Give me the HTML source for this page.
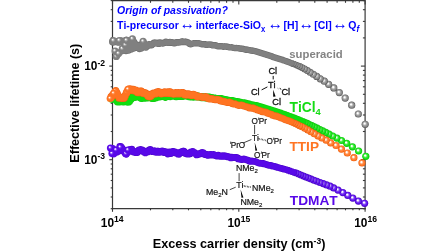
<!DOCTYPE html>
<html><head><meta charset="utf-8"><title>Origin of passivation</title>
<style>
html,body{margin:0;padding:0;background:#fff;}
body{width:448px;height:252px;overflow:hidden;font-family:"Liberation Sans",Arial,sans-serif;}
svg{display:block;}
svg text{font-family:"Liberation Sans",Arial,sans-serif;font-kerning:none;}
.b{font-weight:bold;}
</style></head><body>
<svg width="448" height="252" viewBox="0 0 448 252">
<defs>
<radialGradient id="g_grey" cx="0.5" cy="0.5" r="0.5" fx="0.39" fy="0.36"><stop offset="0" stop-color="#ffffff"/><stop offset="0.15" stop-color="#ffffff"/><stop offset="0.5" stop-color="#a4a4a4"/><stop offset="0.82" stop-color="#808080"/><stop offset="1" stop-color="#505050"/></radialGradient>
<radialGradient id="h_grey" cx="0.5" cy="0.5" r="0.5" fx="0.37" fy="0.34"><stop offset="0" stop-color="#ffffff"/><stop offset="0.08" stop-color="#ffffff"/><stop offset="0.36" stop-color="#a4a4a4"/><stop offset="0.6" stop-color="#808080"/><stop offset="1" stop-color="#808080"/></radialGradient>
<radialGradient id="g_green" cx="0.5" cy="0.5" r="0.5" fx="0.39" fy="0.36"><stop offset="0" stop-color="#ffffff"/><stop offset="0.15" stop-color="#ffffff"/><stop offset="0.5" stop-color="#3cea3c"/><stop offset="0.82" stop-color="#10de10"/><stop offset="1" stop-color="#0cb80c"/></radialGradient>
<radialGradient id="h_green" cx="0.5" cy="0.5" r="0.5" fx="0.37" fy="0.34"><stop offset="0" stop-color="#ffffff"/><stop offset="0.08" stop-color="#ffffff"/><stop offset="0.36" stop-color="#3cea3c"/><stop offset="0.6" stop-color="#10de10"/><stop offset="1" stop-color="#10de10"/></radialGradient>
<radialGradient id="g_orange" cx="0.5" cy="0.5" r="0.5" fx="0.39" fy="0.36"><stop offset="0" stop-color="#ffffff"/><stop offset="0.15" stop-color="#ffffff"/><stop offset="0.5" stop-color="#ff8c48"/><stop offset="0.82" stop-color="#ff7422"/><stop offset="1" stop-color="#e65808"/></radialGradient>
<radialGradient id="h_orange" cx="0.5" cy="0.5" r="0.5" fx="0.37" fy="0.34"><stop offset="0" stop-color="#ffffff"/><stop offset="0.08" stop-color="#ffffff"/><stop offset="0.36" stop-color="#ff8c48"/><stop offset="0.6" stop-color="#ff7422"/><stop offset="1" stop-color="#ff7422"/></radialGradient>
<radialGradient id="g_purple" cx="0.5" cy="0.5" r="0.5" fx="0.39" fy="0.36"><stop offset="0" stop-color="#ffffff"/><stop offset="0.15" stop-color="#ffffff"/><stop offset="0.5" stop-color="#7a3cf4"/><stop offset="0.82" stop-color="#5808e8"/><stop offset="1" stop-color="#4204b8"/></radialGradient>
<radialGradient id="h_purple" cx="0.5" cy="0.5" r="0.5" fx="0.37" fy="0.34"><stop offset="0" stop-color="#ffffff"/><stop offset="0.08" stop-color="#ffffff"/><stop offset="0.36" stop-color="#7a3cf4"/><stop offset="0.6" stop-color="#5808e8"/><stop offset="1" stop-color="#5808e8"/></radialGradient>
</defs>
<rect x="0" y="0" width="448" height="252" fill="#ffffff"/>
<!-- frame -->
<g stroke="#383838" stroke-width="1.2" fill="none" stroke-linecap="butt">
<line x1="112.5" y1="0" x2="112.5" y2="209.35"/>
<line x1="111.85" y1="208.7" x2="365.70000000000005" y2="208.7"/>
<line x1="365.1" y1="0" x2="365.1" y2="209.35"/>
<line x1="112.5" y1="0.6" x2="365.1" y2="0.6"/>
</g>
<g stroke="#383838" stroke-width="1.1" fill="none">
<line x1="110.7" y1="208.7" x2="112.5" y2="208.7"/>
<line x1="362.9" y1="208.7" x2="365.1" y2="208.7"/>
<line x1="110.7" y1="197.0" x2="112.5" y2="197.0"/>
<line x1="362.9" y1="197.0" x2="365.1" y2="197.0"/>
<line x1="110.7" y1="187.9" x2="112.5" y2="187.9"/>
<line x1="362.9" y1="187.9" x2="365.1" y2="187.9"/>
<line x1="110.7" y1="180.5" x2="112.5" y2="180.5"/>
<line x1="362.9" y1="180.5" x2="365.1" y2="180.5"/>
<line x1="110.7" y1="174.2" x2="112.5" y2="174.2"/>
<line x1="362.9" y1="174.2" x2="365.1" y2="174.2"/>
<line x1="110.7" y1="168.8" x2="112.5" y2="168.8"/>
<line x1="362.9" y1="168.8" x2="365.1" y2="168.8"/>
<line x1="110.7" y1="164.0" x2="112.5" y2="164.0"/>
<line x1="362.9" y1="164.0" x2="365.1" y2="164.0"/>
<line x1="109.3" y1="159.7" x2="112.5" y2="159.7"/>
<line x1="360.9" y1="159.7" x2="365.1" y2="159.7"/>
<line x1="110.7" y1="131.5" x2="112.5" y2="131.5"/>
<line x1="362.9" y1="131.5" x2="365.1" y2="131.5"/>
<line x1="110.7" y1="115.0" x2="112.5" y2="115.0"/>
<line x1="362.9" y1="115.0" x2="365.1" y2="115.0"/>
<line x1="110.7" y1="103.3" x2="112.5" y2="103.3"/>
<line x1="362.9" y1="103.3" x2="365.1" y2="103.3"/>
<line x1="110.7" y1="94.3" x2="112.5" y2="94.3"/>
<line x1="362.9" y1="94.3" x2="365.1" y2="94.3"/>
<line x1="110.7" y1="86.8" x2="112.5" y2="86.8"/>
<line x1="362.9" y1="86.8" x2="365.1" y2="86.8"/>
<line x1="110.7" y1="80.6" x2="112.5" y2="80.6"/>
<line x1="362.9" y1="80.6" x2="365.1" y2="80.6"/>
<line x1="110.7" y1="75.1" x2="112.5" y2="75.1"/>
<line x1="362.9" y1="75.1" x2="365.1" y2="75.1"/>
<line x1="110.7" y1="70.4" x2="112.5" y2="70.4"/>
<line x1="362.9" y1="70.4" x2="365.1" y2="70.4"/>
<line x1="109.3" y1="66.1" x2="112.5" y2="66.1"/>
<line x1="360.9" y1="66.1" x2="365.1" y2="66.1"/>
<line x1="110.7" y1="37.9" x2="112.5" y2="37.9"/>
<line x1="362.9" y1="37.9" x2="365.1" y2="37.9"/>
<line x1="110.7" y1="21.4" x2="112.5" y2="21.4"/>
<line x1="362.9" y1="21.4" x2="365.1" y2="21.4"/>
<line x1="110.7" y1="9.7" x2="112.5" y2="9.7"/>
<line x1="362.9" y1="9.7" x2="365.1" y2="9.7"/>
<line x1="110.7" y1="0.6" x2="112.5" y2="0.6"/>
<line x1="362.9" y1="0.6" x2="365.1" y2="0.6"/>
<line x1="112.5" y1="208.7" x2="112.5" y2="211.8"/>
<line x1="112.5" y1="0.6" x2="112.5" y2="4.6"/>
<line x1="150.5" y1="208.7" x2="150.5" y2="210.3"/>
<line x1="150.5" y1="0.6" x2="150.5" y2="2.8"/>
<line x1="172.8" y1="208.7" x2="172.8" y2="210.3"/>
<line x1="172.8" y1="0.6" x2="172.8" y2="2.8"/>
<line x1="188.5" y1="208.7" x2="188.5" y2="210.3"/>
<line x1="188.5" y1="0.6" x2="188.5" y2="2.8"/>
<line x1="200.8" y1="208.7" x2="200.8" y2="210.3"/>
<line x1="200.8" y1="0.6" x2="200.8" y2="2.8"/>
<line x1="210.8" y1="208.7" x2="210.8" y2="210.3"/>
<line x1="210.8" y1="0.6" x2="210.8" y2="2.8"/>
<line x1="219.2" y1="208.7" x2="219.2" y2="210.3"/>
<line x1="219.2" y1="0.6" x2="219.2" y2="2.8"/>
<line x1="226.6" y1="208.7" x2="226.6" y2="210.3"/>
<line x1="226.6" y1="0.6" x2="226.6" y2="2.8"/>
<line x1="233.0" y1="208.7" x2="233.0" y2="210.3"/>
<line x1="233.0" y1="0.6" x2="233.0" y2="2.8"/>
<line x1="238.8" y1="208.7" x2="238.8" y2="211.8"/>
<line x1="238.8" y1="0.6" x2="238.8" y2="4.6"/>
<line x1="276.8" y1="208.7" x2="276.8" y2="210.3"/>
<line x1="276.8" y1="0.6" x2="276.8" y2="2.8"/>
<line x1="299.1" y1="208.7" x2="299.1" y2="210.3"/>
<line x1="299.1" y1="0.6" x2="299.1" y2="2.8"/>
<line x1="314.8" y1="208.7" x2="314.8" y2="210.3"/>
<line x1="314.8" y1="0.6" x2="314.8" y2="2.8"/>
<line x1="327.1" y1="208.7" x2="327.1" y2="210.3"/>
<line x1="327.1" y1="0.6" x2="327.1" y2="2.8"/>
<line x1="337.1" y1="208.7" x2="337.1" y2="210.3"/>
<line x1="337.1" y1="0.6" x2="337.1" y2="2.8"/>
<line x1="345.5" y1="208.7" x2="345.5" y2="210.3"/>
<line x1="345.5" y1="0.6" x2="345.5" y2="2.8"/>
<line x1="352.9" y1="208.7" x2="352.9" y2="210.3"/>
<line x1="352.9" y1="0.6" x2="352.9" y2="2.8"/>
<line x1="359.3" y1="208.7" x2="359.3" y2="210.3"/>
<line x1="359.3" y1="0.6" x2="359.3" y2="2.8"/>
<line x1="365.1" y1="208.7" x2="365.1" y2="211.8"/>
<line x1="365.1" y1="0.6" x2="365.1" y2="4.6"/>
</g>
<!-- titles -->
<g transform="scale(0.9375 1)" class="b" font-size="11.2" fill="#0000ff">
<text x="124.91" y="13.9" font-style="italic">Origin of passivation?</text>
<text x="124.80" y="29.4">Ti-precursor</text>
<text x="208.75" y="29.4">interface-SiO<tspan font-size="8.2" dy="2.6">x</tspan></text>
<text x="302.51" y="29.4">[H]</text>
<text x="335.25" y="29.4">[Cl]</text>
<text x="371.52" y="29.4">Q<tspan font-size="8.6" font-style="italic" dy="2.6">f</tspan></text>
</g>
<g class="b" font-size="15.6" fill="#0000ff">
<text x="179.5" y="29.2">↔</text>
<text x="267.5" y="29.2">↔</text>
<text x="298.5" y="29.2">↔</text>
<text x="332.3" y="29.2">↔</text>
</g>
<!-- axis labels -->
<text transform="translate(79,103.2) rotate(-90)" text-anchor="middle" class="b" font-size="12.6" fill="#000">Effective lifetime (s)</text>
<text x="239.1" y="248.3" text-anchor="middle" class="b" font-size="12.7" fill="#000">Excess carrier density (cm<tspan font-size="8.5" dy="-4.8">-3</tspan><tspan dy="4.8">)</tspan></text>
<!-- tick labels -->
<text x="84.2" y="70.1" class="b" font-size="11.9" fill="#000">10<tspan font-size="8.6" dy="-4.5">-2</tspan></text>
<text x="84.2" y="163.6" class="b" font-size="11.9" fill="#000">10<tspan font-size="8.6" dy="-4.5">-3</tspan></text>
<text x="100.8" y="226.9" class="b" font-size="11.9" fill="#000">10<tspan font-size="8.6" dy="-4.6">14</tspan></text>
<text x="227.5" y="226.9" class="b" font-size="11.9" fill="#000">10<tspan font-size="8.6" dy="-4.6">15</tspan></text>
<text x="354.2" y="226.9" class="b" font-size="11.9" fill="#000">10<tspan font-size="8.6" dy="-4.6">16</tspan></text>
<!-- data -->
<g id="s_grey">
<g fill="url(#g_grey)">
<circle cx="365.2" cy="124.3" r="3.60"/>
<circle cx="358.3" cy="114.0" r="3.60"/>
<circle cx="351.7" cy="105.2" r="3.60"/>
<circle cx="345.2" cy="98.1" r="3.60"/>
<circle cx="339.3" cy="92.6" r="3.60"/>
<circle cx="333.8" cy="87.9" r="3.60"/>
<circle cx="328.6" cy="84.3" r="3.60"/>
<circle cx="324.3" cy="81.2" r="3.60"/>
<circle cx="320.2" cy="78.8" r="3.60"/>
<circle cx="316.7" cy="76.4" r="3.60"/>
<circle cx="313.3" cy="74.3" r="3.55"/>
<circle cx="310.1" cy="72.3" r="3.50"/>
<circle cx="307.2" cy="70.5" r="3.45"/>
<circle cx="304.5" cy="68.9" r="3.40"/>
<circle cx="301.9" cy="67.6" r="3.35"/>
<circle cx="299.6" cy="66.4" r="3.30"/>
<circle cx="297.4" cy="65.5" r="3.25"/>
<circle cx="295.3" cy="64.6" r="3.20"/>
<circle cx="293.4" cy="63.9" r="3.15"/>
</g>
<path d="M291.6 63.2h0M290.0 62.6h0M288.5 62.0h0M287.0 61.5h0M285.7 61.0h0M284.5 60.6h0M283.3 60.2h0M282.3 59.8h0M281.3 59.5h0M280.4 59.3h0M279.5 59.0h0M278.7 58.8h0M277.9 58.5h0M277.1 58.2h0M276.3 57.9h0M275.5 57.7h0M274.7 57.5h0M273.9 57.2h0M273.1 56.9h0M272.3 56.6h0M271.5 56.3h0M270.7 55.9h0M269.9 55.7h0M269.1 55.5h0M268.3 55.3h0M267.5 55.0h0M266.7 54.7h0M265.9 54.4h0M265.1 54.2h0M264.3 53.9h0M263.5 53.7h0M262.7 53.5h0M261.9 53.3h0M261.1 53.0h0M260.3 52.7h0M259.5 52.4h0M258.7 52.2h0M257.9 52.0h0M257.1 51.8h0M256.3 51.5h0M255.5 51.3h0M254.7 51.1h0M253.9 50.9h0M253.1 50.8h0M252.3 50.8h0M251.5 50.6h0M250.7 50.5h0M249.9 50.3h0M249.1 50.1h0M248.3 49.9h0M247.5 49.8h0M246.7 49.8h0M245.9 49.7h0M245.1 49.5h0M244.3 49.2h0M243.5 49.0h0M242.7 48.9h0M241.9 48.8h0M241.1 48.7h0M240.3 48.6h0M239.5 48.6h0M238.7 48.3h0M237.9 48.1h0M237.1 48.1h0M236.3 48.0h0M235.5 48.1h0M234.7 48.1h0M233.9 47.9h0M233.1 47.8h0M232.3 47.6h0M231.5 47.3h0M230.7 47.4h0M229.9 47.4h0M229.1 47.3h0M228.3 47.0h0M227.5 46.8h0M226.7 46.7h0M225.9 46.6h0M225.1 46.5h0M224.3 46.5h0M223.5 46.7h0M222.7 46.4h0M221.9 46.3h0M221.1 46.1h0M220.3 46.2h0M219.5 46.2h0M218.7 46.3h0M217.9 46.2h0M217.1 45.9h0M216.3 45.7h0M215.5 45.3h0M214.7 45.3h0M213.9 45.3h0M213.1 45.4h0M212.3 45.0h0M211.5 44.8h0M210.7 44.7h0M209.9 44.6h0M209.1 44.6h0M208.3 44.6h0M207.5 44.8h0M206.7 44.9h0M205.9 44.7h0M205.1 44.2h0M204.3 44.3h0M203.5 44.2h0M202.7 44.2h0M201.9 44.3h0M201.1 44.1h0M200.3 43.8h0M199.5 43.4h0M198.7 43.1h0M197.9 43.1h0M197.1 43.1h0M196.3 43.2h0M195.5 43.2h0M194.7 43.1h0M193.9 43.3h0M193.1 43.4h0M192.3 43.6h0M191.5 44.0h0M190.7 44.3h0M189.9 43.8v0.1M189.1 43.1v0.1M188.3 42.6v0.1M187.5 42.3v0.1M186.7 42.0v0.1M185.9 41.8v0.1M185.1 41.8v0.1M184.3 41.9v0.2M183.5 41.8v0.2M182.7 41.5v0.2M181.9 41.4v0.2M181.1 41.9v0.2M180.3 42.0v0.2M179.5 42.1v0.2M178.7 42.4v0.2M177.9 42.4v0.2M177.1 42.4v0.2M176.3 42.3v0.2M175.5 42.6v0.2M174.7 43.0v0.3M173.9 42.9v0.3M173.1 42.5v0.3M172.3 42.4v0.3M171.5 42.5v0.3M170.7 42.1v0.3M169.9 41.9v0.3M169.1 42.2v0.3M168.3 42.6v0.3M167.5 42.1v0.3M166.7 42.0v0.3M165.9 41.7v0.4M165.1 42.2v0.4M164.3 42.5v0.4M163.5 42.7v0.4M162.7 43.1v0.4M161.9 43.0v0.4M161.1 42.8v0.4M160.3 42.8v0.4M159.5 42.5v0.5M158.7 43.4v0.5M157.9 43.3v0.5M157.1 43.0v0.5M156.3 42.9v0.5M155.5 42.8v0.5M154.7 42.7v0.5M153.9 42.7v0.5M153.1 43.5v0.6M152.3 43.9v0.6M151.5 44.7v0.6M150.7 44.6v0.6M149.9 44.7v0.6M149.1 44.1v0.9M148.3 44.6v1.2M147.5 44.6v1.4M146.7 44.8v1.8M145.9 45.1v2.4M145.1 44.4v2.9M144.3 43.4v3.5M143.5 42.1v4.0M142.7 42.6v4.1M141.9 44.3v3.4M141.1 45.8v2.7M140.3 46.1v2.6M139.5 46.3v2.7M138.7 45.4v2.7M137.9 45.3v2.7M137.1 44.7v2.8M136.3 45.0v2.8M135.5 44.6v3.2M134.7 43.0v3.8M133.9 41.7v4.5M133.1 40.5v5.1M132.3 40.3v5.1M131.5 40.5v5.1M130.7 40.6v5.0M129.9 41.0v5.0M129.1 41.6v4.9M128.3 40.8v4.8M127.5 40.4v4.4M126.7 40.0v3.8M125.9 40.0v3.1M125.1 40.7v2.7M124.3 40.6v2.3M123.5 41.1v1.8M122.7 41.0v1.4M121.9 40.7v1.0M121.1 40.5v1.0M120.3 40.8v0.9M119.5 41.6v0.9M118.7 41.6v0.9M117.9 41.7v0.8M117.1 41.4v0.8M116.3 41.3v0.8M115.5 41.3v0.7M114.7 41.3v0.7M113.9 41.3v0.7M113.1 41.9v0.6M112.3 41.3v0.6M121.0 51.5h0M123.5 50.5h0M126.0 51.0h0M128.5 50.5h0M131.0 49.5h0M133.5 48.5h0M119.0 53.0h0M117.5 55.0h0M124.0 48.0h0M127.0 47.5h0" fill="none" stroke-linecap="round" stroke="#6a6a6a" stroke-width="6.40"/>
<path d="M291.6 63.2h0M290.0 62.6h0M288.5 62.0h0M287.0 61.5h0M285.7 61.0h0M284.5 60.6h0M283.3 60.2h0M282.3 59.8h0M281.3 59.5h0M280.4 59.3h0M279.5 59.0h0M278.7 58.8h0M277.9 58.5h0M277.1 58.2h0M276.3 57.9h0M275.5 57.7h0M274.7 57.5h0M273.9 57.2h0M273.1 56.9h0M272.3 56.6h0M271.5 56.3h0M270.7 55.9h0M269.9 55.7h0M269.1 55.5h0M268.3 55.3h0M267.5 55.0h0M266.7 54.7h0M265.9 54.4h0M265.1 54.2h0M264.3 53.9h0M263.5 53.7h0M262.7 53.5h0M261.9 53.3h0M261.1 53.0h0M260.3 52.7h0M259.5 52.4h0M258.7 52.2h0M257.9 52.0h0M257.1 51.8h0M256.3 51.5h0M255.5 51.3h0M254.7 51.1h0M253.9 50.9h0M253.1 50.8h0M252.3 50.8h0M251.5 50.6h0M250.7 50.5h0M249.9 50.3h0M249.1 50.1h0M248.3 49.9h0M247.5 49.8h0M246.7 49.8h0M245.9 49.7h0M245.1 49.5h0M244.3 49.2h0M243.5 49.0h0M242.7 48.9h0M241.9 48.8h0M241.1 48.7h0M240.3 48.6h0M239.5 48.6h0M238.7 48.3h0M237.9 48.1h0M237.1 48.1h0M236.3 48.0h0M235.5 48.1h0M234.7 48.1h0M233.9 47.9h0M233.1 47.8h0M232.3 47.6h0M231.5 47.3h0M230.7 47.4h0M229.9 47.4h0M229.1 47.3h0M228.3 47.0h0M227.5 46.8h0M226.7 46.7h0M225.9 46.6h0M225.1 46.5h0M224.3 46.5h0M223.5 46.7h0M222.7 46.4h0M221.9 46.3h0M221.1 46.1h0M220.3 46.2h0M219.5 46.2h0M218.7 46.3h0M217.9 46.2h0M217.1 45.9h0M216.3 45.7h0M215.5 45.3h0M214.7 45.3h0M213.9 45.3h0M213.1 45.4h0M212.3 45.0h0M211.5 44.8h0M210.7 44.7h0M209.9 44.6h0M209.1 44.6h0M208.3 44.6h0M207.5 44.8h0M206.7 44.9h0M205.9 44.7h0M205.1 44.2h0M204.3 44.3h0M203.5 44.2h0M202.7 44.2h0M201.9 44.3h0M201.1 44.1h0M200.3 43.8h0M199.5 43.4h0M198.7 43.1h0M197.9 43.1h0M197.1 43.1h0M196.3 43.2h0M195.5 43.2h0M194.7 43.1h0M193.9 43.3h0M193.1 43.4h0M192.3 43.6h0M191.5 44.0h0M190.7 44.3h0M189.9 43.8v0.1M189.1 43.1v0.1M188.3 42.6v0.1M187.5 42.3v0.1M186.7 42.0v0.1M185.9 41.8v0.1M185.1 41.8v0.1M184.3 41.9v0.2M183.5 41.8v0.2M182.7 41.5v0.2M181.9 41.4v0.2M181.1 41.9v0.2M180.3 42.0v0.2M179.5 42.1v0.2M178.7 42.4v0.2M177.9 42.4v0.2M177.1 42.4v0.2M176.3 42.3v0.2M175.5 42.6v0.2M174.7 43.0v0.3M173.9 42.9v0.3M173.1 42.5v0.3M172.3 42.4v0.3M171.5 42.5v0.3M170.7 42.1v0.3M169.9 41.9v0.3M169.1 42.2v0.3M168.3 42.6v0.3M167.5 42.1v0.3M166.7 42.0v0.3M165.9 41.7v0.4M165.1 42.2v0.4M164.3 42.5v0.4M163.5 42.7v0.4M162.7 43.1v0.4M161.9 43.0v0.4M161.1 42.8v0.4M160.3 42.8v0.4M159.5 42.5v0.5M158.7 43.4v0.5M157.9 43.3v0.5M157.1 43.0v0.5M156.3 42.9v0.5M155.5 42.8v0.5M154.7 42.7v0.5M153.9 42.7v0.5M153.1 43.5v0.6M152.3 43.9v0.6M151.5 44.7v0.6M150.7 44.6v0.6M149.9 44.7v0.6M149.1 44.1v0.9M148.3 44.6v1.2M147.5 44.6v1.4M146.7 44.8v1.8M145.9 45.1v2.4M145.1 44.4v2.9M144.3 43.4v3.5M143.5 42.1v4.0M142.7 42.6v4.1M141.9 44.3v3.4M141.1 45.8v2.7M140.3 46.1v2.6M139.5 46.3v2.7M138.7 45.4v2.7M137.9 45.3v2.7M137.1 44.7v2.8M136.3 45.0v2.8M135.5 44.6v3.2M134.7 43.0v3.8M133.9 41.7v4.5M133.1 40.5v5.1M132.3 40.3v5.1M131.5 40.5v5.1M130.7 40.6v5.0M129.9 41.0v5.0M129.1 41.6v4.9M128.3 40.8v4.8M127.5 40.4v4.4M126.7 40.0v3.8M125.9 40.0v3.1M125.1 40.7v2.7M124.3 40.6v2.3M123.5 41.1v1.8M122.7 41.0v1.4M121.9 40.7v1.0M121.1 40.5v1.0M120.3 40.8v0.9M119.5 41.6v0.9M118.7 41.6v0.9M117.9 41.7v0.8M117.1 41.4v0.8M116.3 41.3v0.8M115.5 41.3v0.7M114.7 41.3v0.7M113.9 41.3v0.7M113.1 41.9v0.6M112.3 41.3v0.6M121.0 51.5h0M123.5 50.5h0M126.0 51.0h0M128.5 50.5h0M131.0 49.5h0M133.5 48.5h0M119.0 53.0h0M117.5 55.0h0M124.0 48.0h0M127.0 47.5h0" fill="none" stroke-linecap="round" stroke="#808080" stroke-width="5.10"/>
<g fill="url(#h_grey)">
<circle cx="116.3" cy="56.4" r="3.6"/>
<circle cx="115.1" cy="51.0" r="3.6"/>
<circle cx="118.5" cy="53.5" r="3.6"/>
<circle cx="122.3" cy="48.7" r="3.6"/>
<circle cx="125.3" cy="44.9" r="3.6"/>
<circle cx="113.4" cy="40.6" r="3.6"/>
<circle cx="119.3" cy="40.5" r="3.6"/>
<circle cx="126.5" cy="40.3" r="3.6"/>
<circle cx="132.4" cy="38.9" r="3.6"/>
<circle cx="143.1" cy="41.3" r="3.6"/>
</g>
</g>
<g id="s_purple">
<g fill="url(#g_purple)">
<circle cx="364.6" cy="203.3" r="3.60"/>
<circle cx="358.4" cy="201.1" r="3.60"/>
<circle cx="352.8" cy="198.1" r="3.60"/>
<circle cx="347.8" cy="195.4" r="3.60"/>
<circle cx="342.8" cy="192.6" r="3.60"/>
<circle cx="338.0" cy="190.1" r="3.60"/>
<circle cx="333.6" cy="187.9" r="3.60"/>
<circle cx="330.0" cy="186.2" r="3.60"/>
<circle cx="326.5" cy="184.9" r="3.60"/>
<circle cx="323.2" cy="183.6" r="3.60"/>
<circle cx="320.0" cy="182.5" r="3.60"/>
<circle cx="316.9" cy="181.3" r="3.57"/>
<circle cx="314.0" cy="180.2" r="3.54"/>
<circle cx="311.1" cy="179.1" r="3.52"/>
<circle cx="308.4" cy="178.0" r="3.49"/>
<circle cx="305.7" cy="177.0" r="3.46"/>
<circle cx="303.2" cy="176.0" r="3.43"/>
<circle cx="300.7" cy="174.9" r="3.41"/>
<circle cx="298.4" cy="173.9" r="3.38"/>
<circle cx="296.1" cy="172.9" r="3.35"/>
</g>
<path d="M293.9 172.3h0M291.8 171.6h0M289.8 170.9h0M287.9 170.2h0M286.0 169.6h0M284.2 169.2h0M282.5 168.7h0M280.9 168.3h0M279.3 167.8h0M277.7 167.4h0M276.3 167.0h0M274.8 166.6h0M273.5 166.2h0M272.1 166.0h0M270.9 165.5h0M269.7 165.4h0M268.5 165.2h0M267.4 164.8h0M266.3 164.5h0M265.2 164.1h0M264.2 163.9h0M263.3 163.5h0M262.3 163.5h0M261.5 163.4h0M260.6 163.3h0M259.8 163.3h0M259.0 163.0h0M258.2 162.8h0M257.4 162.6h0M256.6 162.1h0M255.8 161.7h0M255.0 161.5h0M254.2 161.3h0M253.4 161.4h0M252.6 161.2h0M251.8 161.2h0M251.0 161.2h0M250.2 161.4h0M249.4 161.2v0.1M248.6 160.7v0.1M247.8 160.1v0.1M247.0 159.9v0.1M246.2 159.7v0.1M245.4 159.3v0.1M244.6 159.1v0.2M243.8 159.1v0.2M243.0 159.2v0.2M242.2 159.3v0.2M241.4 159.4v0.2M240.6 159.2v0.2M239.8 159.1v0.2M239.0 158.9v0.2M238.2 158.7v0.2M237.4 158.0v0.2M236.6 157.5v0.2M235.8 157.4v0.2M235.0 157.3v0.3M234.2 157.3v0.3M233.4 157.3v0.3M232.6 157.4v0.3M231.8 157.2v0.3M231.0 157.6v0.3M230.2 157.4v0.3M229.4 157.0v0.3M228.6 156.8v0.3M227.8 156.4v0.3M227.0 156.5v0.3M226.2 156.1v0.3M225.4 155.9v0.3M224.6 155.9v0.4M223.8 156.0v0.4M223.0 156.0v0.4M222.2 155.9v0.4M221.4 156.0v0.4M220.6 155.9v0.4M219.8 155.9v0.4M219.0 155.7v0.4M218.2 155.2v0.4M217.4 155.3v0.4M216.6 155.7v0.4M215.8 155.1v0.4M215.0 155.1v0.5M214.2 154.8v0.5M213.4 154.5v0.5M212.6 154.6v0.5M211.8 154.6v0.5M211.0 154.5v0.5M210.2 154.3v0.5M209.4 154.6v0.5M208.6 154.8v0.5M207.8 154.9v0.5M207.0 154.5v0.5M206.2 154.3v0.5M205.4 154.1v0.5M204.6 154.0v0.6M203.8 153.5v0.6M203.0 152.6v0.6M202.2 152.5v0.6M201.4 152.9v0.6M200.6 153.1v0.6M199.8 153.5v0.6M199.0 153.6v0.6M198.2 153.8v0.6M197.4 154.2v0.6M196.6 154.3v0.6M195.8 153.5v0.6M195.0 152.9v0.6M194.2 152.3v0.6M193.4 152.1v0.6M192.6 151.3v0.6M191.8 151.9v0.6M191.0 151.8v0.6M190.2 153.2v0.6M189.4 153.3v0.6M188.6 153.6v0.6M187.8 153.6v0.6M187.0 153.4v0.6M186.2 153.1v0.6M185.4 152.8v0.6M184.6 151.8v0.6M183.8 151.2v0.6M183.0 151.2v0.6M182.2 151.5v0.6M181.4 151.9v0.6M180.6 152.1v0.6M179.8 152.8v0.6M179.0 153.7v0.6M178.2 153.6v0.6M177.4 153.0v0.7M176.6 152.4v0.7M175.8 152.4v0.7M175.0 152.0v0.7M174.2 151.7v0.7M173.4 151.3v0.7M172.6 151.4v0.7M171.8 151.8v0.7M171.0 152.8v0.7M170.2 152.9v0.7M169.4 151.9v0.7M168.6 152.5v0.7M167.8 153.4v0.7M167.0 152.3v0.7M166.2 152.0v0.7M165.4 151.7v0.7M164.6 151.4v0.7M163.8 151.9v0.7M163.0 151.3v0.7M162.2 151.0v0.7M161.4 151.1v0.7M160.6 151.3v0.7M159.8 151.4v0.7M159.0 151.7v0.7M158.2 151.2v0.7M157.4 151.1v0.7M156.6 151.3v0.7M155.8 151.6v0.7M155.0 151.3v0.7M154.2 150.7v0.7M153.4 150.9v0.7M152.6 151.0v0.7M151.8 150.7v0.7M151.0 150.3v0.7M150.2 149.4v0.7M149.4 149.9v0.7M148.6 150.4v0.7M147.8 151.2v0.7M147.0 151.0v0.7M146.2 151.8v0.7M145.4 152.2v0.7M144.6 151.9v0.7M143.8 151.2v0.7M143.0 150.8v0.7M142.2 150.0v0.7M141.4 149.9v0.7M140.6 149.5v0.7M139.8 149.7v0.7M139.0 149.8v0.7M138.2 150.7v0.7M137.4 151.8v0.7M136.6 152.0v0.7M135.8 151.5v0.7M135.0 151.9v0.7M134.2 151.6v0.7M133.4 151.2v0.8M132.6 150.6v0.8M131.8 149.2v0.8M131.0 149.4v0.8M130.2 149.5v0.8M129.4 150.3v0.8M128.6 150.8v0.8M127.8 151.6v0.8M127.0 151.9v0.8M126.2 153.5v0.8M125.4 153.0v0.8M124.6 151.6v0.8M123.8 150.6v0.8M123.0 149.3v0.8M122.2 148.4v0.8M121.4 147.1v0.8M120.6 146.4v0.8M119.8 146.4v0.8M119.0 149.2v0.8M118.2 150.7v0.8M117.4 151.2v0.8M116.6 151.4v0.8M115.8 151.8v0.8M115.0 151.0v0.8M114.2 150.9v0.8M113.4 149.4v0.8M112.6 148.3v0.8M111.8 148.9v0.8" fill="none" stroke-linecap="round" stroke="#4c06cc" stroke-width="6.80"/>
<path d="M293.9 172.3h0M291.8 171.6h0M289.8 170.9h0M287.9 170.2h0M286.0 169.6h0M284.2 169.2h0M282.5 168.7h0M280.9 168.3h0M279.3 167.8h0M277.7 167.4h0M276.3 167.0h0M274.8 166.6h0M273.5 166.2h0M272.1 166.0h0M270.9 165.5h0M269.7 165.4h0M268.5 165.2h0M267.4 164.8h0M266.3 164.5h0M265.2 164.1h0M264.2 163.9h0M263.3 163.5h0M262.3 163.5h0M261.5 163.4h0M260.6 163.3h0M259.8 163.3h0M259.0 163.0h0M258.2 162.8h0M257.4 162.6h0M256.6 162.1h0M255.8 161.7h0M255.0 161.5h0M254.2 161.3h0M253.4 161.4h0M252.6 161.2h0M251.8 161.2h0M251.0 161.2h0M250.2 161.4h0M249.4 161.2v0.1M248.6 160.7v0.1M247.8 160.1v0.1M247.0 159.9v0.1M246.2 159.7v0.1M245.4 159.3v0.1M244.6 159.1v0.2M243.8 159.1v0.2M243.0 159.2v0.2M242.2 159.3v0.2M241.4 159.4v0.2M240.6 159.2v0.2M239.8 159.1v0.2M239.0 158.9v0.2M238.2 158.7v0.2M237.4 158.0v0.2M236.6 157.5v0.2M235.8 157.4v0.2M235.0 157.3v0.3M234.2 157.3v0.3M233.4 157.3v0.3M232.6 157.4v0.3M231.8 157.2v0.3M231.0 157.6v0.3M230.2 157.4v0.3M229.4 157.0v0.3M228.6 156.8v0.3M227.8 156.4v0.3M227.0 156.5v0.3M226.2 156.1v0.3M225.4 155.9v0.3M224.6 155.9v0.4M223.8 156.0v0.4M223.0 156.0v0.4M222.2 155.9v0.4M221.4 156.0v0.4M220.6 155.9v0.4M219.8 155.9v0.4M219.0 155.7v0.4M218.2 155.2v0.4M217.4 155.3v0.4M216.6 155.7v0.4M215.8 155.1v0.4M215.0 155.1v0.5M214.2 154.8v0.5M213.4 154.5v0.5M212.6 154.6v0.5M211.8 154.6v0.5M211.0 154.5v0.5M210.2 154.3v0.5M209.4 154.6v0.5M208.6 154.8v0.5M207.8 154.9v0.5M207.0 154.5v0.5M206.2 154.3v0.5M205.4 154.1v0.5M204.6 154.0v0.6M203.8 153.5v0.6M203.0 152.6v0.6M202.2 152.5v0.6M201.4 152.9v0.6M200.6 153.1v0.6M199.8 153.5v0.6M199.0 153.6v0.6M198.2 153.8v0.6M197.4 154.2v0.6M196.6 154.3v0.6M195.8 153.5v0.6M195.0 152.9v0.6M194.2 152.3v0.6M193.4 152.1v0.6M192.6 151.3v0.6M191.8 151.9v0.6M191.0 151.8v0.6M190.2 153.2v0.6M189.4 153.3v0.6M188.6 153.6v0.6M187.8 153.6v0.6M187.0 153.4v0.6M186.2 153.1v0.6M185.4 152.8v0.6M184.6 151.8v0.6M183.8 151.2v0.6M183.0 151.2v0.6M182.2 151.5v0.6M181.4 151.9v0.6M180.6 152.1v0.6M179.8 152.8v0.6M179.0 153.7v0.6M178.2 153.6v0.6M177.4 153.0v0.7M176.6 152.4v0.7M175.8 152.4v0.7M175.0 152.0v0.7M174.2 151.7v0.7M173.4 151.3v0.7M172.6 151.4v0.7M171.8 151.8v0.7M171.0 152.8v0.7M170.2 152.9v0.7M169.4 151.9v0.7M168.6 152.5v0.7M167.8 153.4v0.7M167.0 152.3v0.7M166.2 152.0v0.7M165.4 151.7v0.7M164.6 151.4v0.7M163.8 151.9v0.7M163.0 151.3v0.7M162.2 151.0v0.7M161.4 151.1v0.7M160.6 151.3v0.7M159.8 151.4v0.7M159.0 151.7v0.7M158.2 151.2v0.7M157.4 151.1v0.7M156.6 151.3v0.7M155.8 151.6v0.7M155.0 151.3v0.7M154.2 150.7v0.7M153.4 150.9v0.7M152.6 151.0v0.7M151.8 150.7v0.7M151.0 150.3v0.7M150.2 149.4v0.7M149.4 149.9v0.7M148.6 150.4v0.7M147.8 151.2v0.7M147.0 151.0v0.7M146.2 151.8v0.7M145.4 152.2v0.7M144.6 151.9v0.7M143.8 151.2v0.7M143.0 150.8v0.7M142.2 150.0v0.7M141.4 149.9v0.7M140.6 149.5v0.7M139.8 149.7v0.7M139.0 149.8v0.7M138.2 150.7v0.7M137.4 151.8v0.7M136.6 152.0v0.7M135.8 151.5v0.7M135.0 151.9v0.7M134.2 151.6v0.7M133.4 151.2v0.8M132.6 150.6v0.8M131.8 149.2v0.8M131.0 149.4v0.8M130.2 149.5v0.8M129.4 150.3v0.8M128.6 150.8v0.8M127.8 151.6v0.8M127.0 151.9v0.8M126.2 153.5v0.8M125.4 153.0v0.8M124.6 151.6v0.8M123.8 150.6v0.8M123.0 149.3v0.8M122.2 148.4v0.8M121.4 147.1v0.8M120.6 146.4v0.8M119.8 146.4v0.8M119.0 149.2v0.8M118.2 150.7v0.8M117.4 151.2v0.8M116.6 151.4v0.8M115.8 151.8v0.8M115.0 151.0v0.8M114.2 150.9v0.8M113.4 149.4v0.8M112.6 148.3v0.8M111.8 148.9v0.8" fill="none" stroke-linecap="round" stroke="#5808e8" stroke-width="5.50"/>
<g fill="url(#h_purple)">
<circle cx="113.5" cy="154.0" r="3.6"/>
<circle cx="126.0" cy="153.6" r="3.6"/>
<circle cx="128.0" cy="150.0" r="3.6"/>
<circle cx="120.3" cy="147.3" r="3.6"/>
<circle cx="116.0" cy="150.0" r="3.6"/>
<circle cx="112.0" cy="153.5" r="3.6"/>
<circle cx="110.5" cy="148.1" r="3.6"/>
</g>
</g>
<g id="s_green">
<g fill="url(#g_green)">
<circle cx="365.8" cy="156.3" r="3.60"/>
<circle cx="358.6" cy="151.0" r="3.60"/>
<circle cx="352.4" cy="146.8" r="3.60"/>
<circle cx="346.7" cy="143.3" r="3.60"/>
<circle cx="341.5" cy="140.5" r="3.60"/>
<circle cx="336.9" cy="138.1" r="3.60"/>
<circle cx="332.7" cy="136.0" r="3.60"/>
<circle cx="329.0" cy="134.1" r="3.60"/>
<circle cx="325.7" cy="132.4" r="3.59"/>
<circle cx="322.7" cy="130.9" r="3.59"/>
<circle cx="319.9" cy="129.5" r="3.58"/>
<circle cx="317.1" cy="128.2" r="3.58"/>
<circle cx="314.4" cy="126.9" r="3.57"/>
<circle cx="311.8" cy="125.6" r="3.57"/>
<circle cx="309.4" cy="124.5" r="3.56"/>
<circle cx="307.2" cy="123.4" r="3.56"/>
<circle cx="305.0" cy="122.5" r="3.55"/>
</g>
<path d="M303.0 121.6h0M301.0 120.8h0M299.2 120.1h0M297.5 119.4h0M295.9 118.8h0M294.4 118.2h0M292.9 117.7h0M291.5 117.2h0M290.2 116.7h0M289.0 116.3h0M287.9 115.8h0M286.8 115.4h0M285.7 115.1h0M284.8 114.7h0M283.8 114.4h0M283.0 114.1h0M282.2 113.8h0M281.4 113.5h0M280.6 113.2h0M279.8 113.0h0M279.0 112.8h0M278.2 112.5h0M277.4 112.2h0M276.6 112.0h0M275.8 111.7h0M275.0 111.4h0M274.2 111.1h0M273.4 110.9h0M272.6 110.6h0M271.8 110.4h0M271.0 110.1h0M270.2 109.8h0M269.4 109.5h0M268.6 109.3h0M267.8 109.0h0M267.0 108.9h0M266.2 108.7h0M265.4 108.5h0M264.6 108.1h0M263.8 107.8h0M263.0 107.6h0M262.2 107.4h0M261.4 107.2h0M260.6 106.9h0M259.8 106.7h0M259.0 106.5h0M258.2 106.3h0M257.4 105.9h0M256.6 105.8h0M255.8 105.7h0M255.0 105.6h0M254.2 105.4h0M253.4 105.3h0M252.6 105.0h0M251.8 104.8h0M251.0 104.6h0M250.2 104.5h0M249.4 104.1v0.1M248.6 104.1v0.1M247.8 103.9v0.1M247.0 103.6v0.1M246.2 103.4v0.1M245.4 103.2v0.1M244.6 103.2v0.2M243.8 103.0v0.2M243.0 102.9v0.2M242.2 102.9v0.2M241.4 102.7v0.2M240.6 102.5v0.2M239.8 102.2v0.2M239.0 102.2v0.2M238.2 101.9v0.2M237.4 101.7v0.2M236.6 101.7v0.2M235.8 101.5v0.2M235.0 101.3v0.3M234.2 101.0v0.3M233.4 100.8v0.3M232.6 100.7v0.3M231.8 100.8v0.3M231.0 100.7v0.3M230.2 100.6v0.3M229.4 100.5v0.3M228.6 100.3v0.3M227.8 100.1v0.3M227.0 100.1v0.3M226.2 99.8v0.3M225.4 99.7v0.3M224.6 99.6v0.4M223.8 99.4v0.4M223.0 99.0v0.4M222.2 98.8v0.4M221.4 98.7v0.4M220.6 98.7v0.4M219.8 98.8v0.4M219.0 98.7v0.4M218.2 98.6v0.4M217.4 98.7v0.4M216.6 98.5v0.4M215.8 98.3v0.4M215.0 98.3v0.5M214.2 98.2v0.5M213.4 98.2v0.5M212.6 98.0v0.5M211.8 97.7v0.5M211.0 97.6v0.5M210.2 97.5v0.5M209.4 97.2v0.5M208.6 97.1v0.5M207.8 97.3v0.5M207.0 97.4v0.5M206.2 97.4v0.5M205.4 97.2v0.5M204.6 97.1v0.6M203.8 97.1v0.6M203.0 97.0v0.6M202.2 97.0v0.6M201.4 97.0v0.6M200.6 96.9v0.6M199.8 96.6v0.6M199.0 96.4v0.6M198.2 96.2v0.6M197.4 96.0v0.6M196.6 96.1v0.6M195.8 96.2v0.6M195.0 96.4v0.6M194.2 96.3v0.6M193.4 96.5v0.6M192.6 96.2v0.6M191.8 96.1v0.6M191.0 96.0v0.6M190.2 96.2v0.6M189.4 96.1v0.6M188.6 96.0v0.6M187.8 95.7v0.6M187.0 95.6v0.6M186.2 95.3v0.6M185.4 95.0v0.6M184.6 95.1v0.6M183.8 95.5v0.6M183.0 95.7v0.6M182.2 95.7v0.6M181.4 95.5v0.6M180.6 95.6v0.6M179.8 95.7v0.6M179.0 95.6v0.6M178.2 95.8v0.6M177.4 95.8v0.7M176.6 95.9v0.7M175.8 95.9v0.7M175.0 95.3v0.7M174.2 94.8v0.7M173.4 95.0v0.7M172.6 95.4v0.7M171.8 95.4v0.7M171.0 95.6v0.7M170.2 95.9v0.7M169.4 95.7v0.7M168.6 95.8v0.7M167.8 95.8v0.7M167.0 96.0v0.7M166.2 96.2v0.7M165.4 96.6v0.7M164.6 96.2v0.7M163.8 96.0v0.7M163.0 95.8v0.7M162.2 95.6v0.7M161.4 95.3v0.7M160.6 95.4v0.7M159.8 96.1v0.7M159.0 96.3v0.7M158.2 96.5v0.7M157.4 96.3v0.7M156.6 96.3v0.7M155.8 97.1v0.7M155.0 97.1v0.7M154.2 97.6v0.7M153.4 97.2v0.7M152.6 97.3v0.7M151.8 97.6v0.7M151.0 96.9v0.7M150.2 96.3v0.7M149.4 96.6v0.7M148.6 96.7v0.7M147.8 97.1v0.7M147.0 97.0v0.7M146.2 97.2v0.7M145.4 97.4v0.7M144.6 97.1v0.7M143.8 97.0v0.7M143.0 97.0v0.7M142.2 97.6v0.7M141.4 97.8v0.7M140.6 97.3v0.7M139.8 96.8v0.7M139.0 96.0v0.7M138.2 96.2v0.7M137.4 95.4v0.7M136.6 95.8v0.7M135.8 95.8v0.7M135.0 96.6v0.7M134.2 96.2v0.7M133.4 96.0v0.8M132.6 96.6v0.8M131.8 97.5v0.8M131.0 98.5v0.8M130.2 99.2v0.8M129.4 100.7v0.8M128.6 101.1v0.8M127.8 101.3v0.8M127.0 100.8v0.8M126.2 100.7v0.8M125.4 100.1v0.8M124.6 100.9v0.8M123.8 101.0v0.8M123.0 101.0v0.8M122.2 100.5v0.8M121.4 100.8v0.8M120.6 100.9v0.8M119.8 101.0v0.8M119.0 101.2v0.8M118.2 101.0v0.8M117.4 101.0v0.8M116.6 99.9v0.8M115.8 98.4v0.8M115.0 97.7v0.8M114.2 97.8v0.8M113.4 97.6v0.8M112.6 97.6v0.8M111.8 98.4v0.8" fill="none" stroke-linecap="round" stroke="#10cc10" stroke-width="7.20"/>
<path d="M303.0 121.6h0M301.0 120.8h0M299.2 120.1h0M297.5 119.4h0M295.9 118.8h0M294.4 118.2h0M292.9 117.7h0M291.5 117.2h0M290.2 116.7h0M289.0 116.3h0M287.9 115.8h0M286.8 115.4h0M285.7 115.1h0M284.8 114.7h0M283.8 114.4h0M283.0 114.1h0M282.2 113.8h0M281.4 113.5h0M280.6 113.2h0M279.8 113.0h0M279.0 112.8h0M278.2 112.5h0M277.4 112.2h0M276.6 112.0h0M275.8 111.7h0M275.0 111.4h0M274.2 111.1h0M273.4 110.9h0M272.6 110.6h0M271.8 110.4h0M271.0 110.1h0M270.2 109.8h0M269.4 109.5h0M268.6 109.3h0M267.8 109.0h0M267.0 108.9h0M266.2 108.7h0M265.4 108.5h0M264.6 108.1h0M263.8 107.8h0M263.0 107.6h0M262.2 107.4h0M261.4 107.2h0M260.6 106.9h0M259.8 106.7h0M259.0 106.5h0M258.2 106.3h0M257.4 105.9h0M256.6 105.8h0M255.8 105.7h0M255.0 105.6h0M254.2 105.4h0M253.4 105.3h0M252.6 105.0h0M251.8 104.8h0M251.0 104.6h0M250.2 104.5h0M249.4 104.1v0.1M248.6 104.1v0.1M247.8 103.9v0.1M247.0 103.6v0.1M246.2 103.4v0.1M245.4 103.2v0.1M244.6 103.2v0.2M243.8 103.0v0.2M243.0 102.9v0.2M242.2 102.9v0.2M241.4 102.7v0.2M240.6 102.5v0.2M239.8 102.2v0.2M239.0 102.2v0.2M238.2 101.9v0.2M237.4 101.7v0.2M236.6 101.7v0.2M235.8 101.5v0.2M235.0 101.3v0.3M234.2 101.0v0.3M233.4 100.8v0.3M232.6 100.7v0.3M231.8 100.8v0.3M231.0 100.7v0.3M230.2 100.6v0.3M229.4 100.5v0.3M228.6 100.3v0.3M227.8 100.1v0.3M227.0 100.1v0.3M226.2 99.8v0.3M225.4 99.7v0.3M224.6 99.6v0.4M223.8 99.4v0.4M223.0 99.0v0.4M222.2 98.8v0.4M221.4 98.7v0.4M220.6 98.7v0.4M219.8 98.8v0.4M219.0 98.7v0.4M218.2 98.6v0.4M217.4 98.7v0.4M216.6 98.5v0.4M215.8 98.3v0.4M215.0 98.3v0.5M214.2 98.2v0.5M213.4 98.2v0.5M212.6 98.0v0.5M211.8 97.7v0.5M211.0 97.6v0.5M210.2 97.5v0.5M209.4 97.2v0.5M208.6 97.1v0.5M207.8 97.3v0.5M207.0 97.4v0.5M206.2 97.4v0.5M205.4 97.2v0.5M204.6 97.1v0.6M203.8 97.1v0.6M203.0 97.0v0.6M202.2 97.0v0.6M201.4 97.0v0.6M200.6 96.9v0.6M199.8 96.6v0.6M199.0 96.4v0.6M198.2 96.2v0.6M197.4 96.0v0.6M196.6 96.1v0.6M195.8 96.2v0.6M195.0 96.4v0.6M194.2 96.3v0.6M193.4 96.5v0.6M192.6 96.2v0.6M191.8 96.1v0.6M191.0 96.0v0.6M190.2 96.2v0.6M189.4 96.1v0.6M188.6 96.0v0.6M187.8 95.7v0.6M187.0 95.6v0.6M186.2 95.3v0.6M185.4 95.0v0.6M184.6 95.1v0.6M183.8 95.5v0.6M183.0 95.7v0.6M182.2 95.7v0.6M181.4 95.5v0.6M180.6 95.6v0.6M179.8 95.7v0.6M179.0 95.6v0.6M178.2 95.8v0.6M177.4 95.8v0.7M176.6 95.9v0.7M175.8 95.9v0.7M175.0 95.3v0.7M174.2 94.8v0.7M173.4 95.0v0.7M172.6 95.4v0.7M171.8 95.4v0.7M171.0 95.6v0.7M170.2 95.9v0.7M169.4 95.7v0.7M168.6 95.8v0.7M167.8 95.8v0.7M167.0 96.0v0.7M166.2 96.2v0.7M165.4 96.6v0.7M164.6 96.2v0.7M163.8 96.0v0.7M163.0 95.8v0.7M162.2 95.6v0.7M161.4 95.3v0.7M160.6 95.4v0.7M159.8 96.1v0.7M159.0 96.3v0.7M158.2 96.5v0.7M157.4 96.3v0.7M156.6 96.3v0.7M155.8 97.1v0.7M155.0 97.1v0.7M154.2 97.6v0.7M153.4 97.2v0.7M152.6 97.3v0.7M151.8 97.6v0.7M151.0 96.9v0.7M150.2 96.3v0.7M149.4 96.6v0.7M148.6 96.7v0.7M147.8 97.1v0.7M147.0 97.0v0.7M146.2 97.2v0.7M145.4 97.4v0.7M144.6 97.1v0.7M143.8 97.0v0.7M143.0 97.0v0.7M142.2 97.6v0.7M141.4 97.8v0.7M140.6 97.3v0.7M139.8 96.8v0.7M139.0 96.0v0.7M138.2 96.2v0.7M137.4 95.4v0.7M136.6 95.8v0.7M135.8 95.8v0.7M135.0 96.6v0.7M134.2 96.2v0.7M133.4 96.0v0.8M132.6 96.6v0.8M131.8 97.5v0.8M131.0 98.5v0.8M130.2 99.2v0.8M129.4 100.7v0.8M128.6 101.1v0.8M127.8 101.3v0.8M127.0 100.8v0.8M126.2 100.7v0.8M125.4 100.1v0.8M124.6 100.9v0.8M123.8 101.0v0.8M123.0 101.0v0.8M122.2 100.5v0.8M121.4 100.8v0.8M120.6 100.9v0.8M119.8 101.0v0.8M119.0 101.2v0.8M118.2 101.0v0.8M117.4 101.0v0.8M116.6 99.9v0.8M115.8 98.4v0.8M115.0 97.7v0.8M114.2 97.8v0.8M113.4 97.6v0.8M112.6 97.6v0.8M111.8 98.4v0.8" fill="none" stroke-linecap="round" stroke="#10de10" stroke-width="5.90"/>
<g fill="url(#h_green)">

</g>
</g>
<g id="s_orange">
<g fill="url(#g_orange)">
<circle cx="362.0" cy="162.9" r="3.60"/>
<circle cx="353.9" cy="157.7" r="3.60"/>
<circle cx="347.3" cy="153.0" r="3.60"/>
<circle cx="341.4" cy="149.1" r="3.60"/>
<circle cx="336.0" cy="145.5" r="3.60"/>
<circle cx="330.7" cy="142.9" r="3.60"/>
<circle cx="326.2" cy="140.2" r="3.60"/>
<circle cx="321.8" cy="137.9" r="3.60"/>
<circle cx="317.9" cy="135.8" r="3.60"/>
<circle cx="314.3" cy="133.7" r="3.58"/>
<circle cx="310.9" cy="131.8" r="3.57"/>
<circle cx="307.8" cy="129.9" r="3.55"/>
<circle cx="304.8" cy="128.3" r="3.53"/>
<circle cx="302.1" cy="126.8" r="3.52"/>
<circle cx="299.6" cy="125.7" r="3.50"/>
<circle cx="297.3" cy="124.6" r="3.48"/>
<circle cx="295.1" cy="123.4" r="3.47"/>
<circle cx="293.1" cy="122.6" r="3.45"/>
</g>
<path d="M291.2 121.8h0M289.4 120.9h0M287.8 120.4h0M286.3 120.0h0M284.8 119.4h0M283.5 118.7h0M282.3 118.3h0M281.2 117.9h0M280.1 117.5h0M279.1 117.1h0M278.2 116.7h0M277.4 116.4h0M276.6 116.1h0M275.8 116.0h0M275.0 116.0h0M274.2 115.6h0M273.4 115.4h0M272.6 115.2h0M271.8 114.5h0M271.0 114.2h0M270.2 114.0h0M269.4 113.8h0M268.6 113.4h0M267.8 113.3h0M267.0 112.7h0M266.2 112.3h0M265.4 112.2h0M264.6 112.0h0M263.8 111.8h0M263.0 111.8h0M262.2 111.7h0M261.4 111.3h0M260.6 110.8h0M259.8 110.7h0M259.0 110.3h0M258.2 109.9h0M257.4 109.9h0M256.6 109.5h0M255.8 109.1h0M255.0 108.9h0M254.2 108.5h0M253.4 108.1h0M252.6 108.1h0M251.8 108.2h0M251.0 108.0h0M250.2 107.9h0M249.4 107.9h0M248.6 107.3h0M247.8 107.1h0M247.0 106.9h0M246.2 106.7h0M245.4 106.5h0M244.6 106.3h0M243.8 106.1h0M243.0 105.4h0M242.2 105.2h0M241.4 105.2h0M240.6 105.1h0M239.8 105.2h0M239.0 105.4h0M238.2 105.1h0M237.4 104.9h0M236.6 104.5h0M235.8 104.3h0M235.0 103.8h0M234.2 104.1h0M233.4 104.0h0M232.6 103.7h0M231.8 103.2h0M231.0 102.7h0M230.2 102.5h0M229.4 102.1h0M228.6 102.2h0M227.8 102.4h0M227.0 102.4h0M226.2 102.3h0M225.4 102.1h0M224.6 101.4h0M223.8 101.6h0M223.0 101.4h0M222.2 101.1v0.1M221.4 101.1v0.1M220.6 100.9v0.1M219.8 100.3v0.1M219.0 99.7v0.1M218.2 99.6v0.2M217.4 99.4v0.2M216.6 99.3v0.2M215.8 99.5v0.2M215.0 99.6v0.2M214.2 99.3v0.2M213.4 99.2v0.2M212.6 99.0v0.3M211.8 98.6v0.3M211.0 98.5v0.3M210.2 98.8v0.3M209.4 98.5v0.4M208.6 98.1v0.4M207.8 98.2v0.4M207.0 97.3v0.4M206.2 96.8v0.4M205.4 96.8v0.5M204.6 96.7v0.5M203.8 96.9v0.5M203.0 96.9v0.5M202.2 96.9v0.5M201.4 96.6v0.6M200.6 96.4v0.6M199.8 96.4v0.6M199.0 96.2v0.6M198.2 96.4v0.6M197.4 96.4v0.7M196.6 95.8v0.7M195.8 95.3v0.7M195.0 94.9v0.7M194.2 94.5v0.7M193.4 94.2v0.8M192.6 94.4v0.8M191.8 94.9v0.8M191.0 94.5v0.8M190.2 94.4v0.8M189.4 94.4v0.9M188.6 93.8v0.9M187.8 93.9v0.9M187.0 94.1v0.9M186.2 94.3v0.9M185.4 93.8v1.0M184.6 93.9v1.0M183.8 93.1v1.0M183.0 92.6v1.0M182.2 92.4v1.0M181.4 92.5v1.1M180.6 92.7v1.1M179.8 92.9v1.1M179.0 92.8v1.1M178.2 92.6v1.1M177.4 92.7v1.1M176.6 92.8v1.1M175.8 92.5v1.1M175.0 92.9v1.1M174.2 93.1v1.1M173.4 93.2v1.1M172.6 92.7v1.1M171.8 92.6v1.1M171.0 92.6v1.1M170.2 91.8v1.1M169.4 91.8v1.1M168.6 92.5v1.1M167.8 92.1v1.1M167.0 92.1v1.1M166.2 92.3v1.1M165.4 92.1v1.1M164.6 91.8v1.1M163.8 92.4v1.1M163.0 92.5v1.1M162.2 92.7v1.1M161.4 92.9v1.1M160.6 92.6v1.1M159.8 91.9v1.1M159.0 91.7v1.1M158.2 91.5v1.1M157.4 91.8v1.1M156.6 92.1v1.1M155.8 92.8v1.1M155.0 92.9v1.1M154.2 92.9v1.1M153.4 93.1v1.1M152.6 93.7v1.1M151.8 93.8v1.2M151.0 95.1v1.2M150.2 95.6v1.2M149.4 95.9v1.2M148.6 95.5v1.2M147.8 95.0v1.2M147.0 93.8v1.2M146.2 93.3v1.2M145.4 92.8v1.2M144.6 92.5v1.2M143.8 92.3v1.2M143.0 92.3v1.2M142.2 91.8v1.2M141.4 91.1v1.2M140.6 91.1v1.2M139.8 91.5v1.2M139.0 91.1v1.2M138.2 91.6v1.2M137.4 91.6v1.2M136.6 90.8v1.2M135.8 89.9v1.2M135.0 90.1v1.2M134.2 89.4v1.2M133.4 89.2v1.2M132.6 89.5v1.2M131.8 89.4v1.2M131.0 89.1v1.2M130.2 89.1v1.2M129.4 88.9v1.2M128.6 88.9v1.2M127.8 90.2v1.2M127.0 91.7v1.2M126.2 92.9v1.2M125.4 94.8v1.2M124.6 96.5v1.2M123.8 97.3v1.2M123.0 97.0v1.2M122.2 97.0v1.2M121.4 97.4v1.2M120.6 97.1v1.2M119.8 97.1v1.2M119.0 97.0v1.2M118.2 95.4v1.2M117.4 93.4v1.2M116.6 92.1v1.2M115.8 90.5v1.2M115.0 91.4v1.2M114.2 93.0v1.2M113.4 94.1v1.2M112.6 94.7v1.2M111.8 95.8v1.2M111.0 96.6v1.2" fill="none" stroke-linecap="round" stroke="#f06414" stroke-width="7.00"/>
<path d="M291.2 121.8h0M289.4 120.9h0M287.8 120.4h0M286.3 120.0h0M284.8 119.4h0M283.5 118.7h0M282.3 118.3h0M281.2 117.9h0M280.1 117.5h0M279.1 117.1h0M278.2 116.7h0M277.4 116.4h0M276.6 116.1h0M275.8 116.0h0M275.0 116.0h0M274.2 115.6h0M273.4 115.4h0M272.6 115.2h0M271.8 114.5h0M271.0 114.2h0M270.2 114.0h0M269.4 113.8h0M268.6 113.4h0M267.8 113.3h0M267.0 112.7h0M266.2 112.3h0M265.4 112.2h0M264.6 112.0h0M263.8 111.8h0M263.0 111.8h0M262.2 111.7h0M261.4 111.3h0M260.6 110.8h0M259.8 110.7h0M259.0 110.3h0M258.2 109.9h0M257.4 109.9h0M256.6 109.5h0M255.8 109.1h0M255.0 108.9h0M254.2 108.5h0M253.4 108.1h0M252.6 108.1h0M251.8 108.2h0M251.0 108.0h0M250.2 107.9h0M249.4 107.9h0M248.6 107.3h0M247.8 107.1h0M247.0 106.9h0M246.2 106.7h0M245.4 106.5h0M244.6 106.3h0M243.8 106.1h0M243.0 105.4h0M242.2 105.2h0M241.4 105.2h0M240.6 105.1h0M239.8 105.2h0M239.0 105.4h0M238.2 105.1h0M237.4 104.9h0M236.6 104.5h0M235.8 104.3h0M235.0 103.8h0M234.2 104.1h0M233.4 104.0h0M232.6 103.7h0M231.8 103.2h0M231.0 102.7h0M230.2 102.5h0M229.4 102.1h0M228.6 102.2h0M227.8 102.4h0M227.0 102.4h0M226.2 102.3h0M225.4 102.1h0M224.6 101.4h0M223.8 101.6h0M223.0 101.4h0M222.2 101.1v0.1M221.4 101.1v0.1M220.6 100.9v0.1M219.8 100.3v0.1M219.0 99.7v0.1M218.2 99.6v0.2M217.4 99.4v0.2M216.6 99.3v0.2M215.8 99.5v0.2M215.0 99.6v0.2M214.2 99.3v0.2M213.4 99.2v0.2M212.6 99.0v0.3M211.8 98.6v0.3M211.0 98.5v0.3M210.2 98.8v0.3M209.4 98.5v0.4M208.6 98.1v0.4M207.8 98.2v0.4M207.0 97.3v0.4M206.2 96.8v0.4M205.4 96.8v0.5M204.6 96.7v0.5M203.8 96.9v0.5M203.0 96.9v0.5M202.2 96.9v0.5M201.4 96.6v0.6M200.6 96.4v0.6M199.8 96.4v0.6M199.0 96.2v0.6M198.2 96.4v0.6M197.4 96.4v0.7M196.6 95.8v0.7M195.8 95.3v0.7M195.0 94.9v0.7M194.2 94.5v0.7M193.4 94.2v0.8M192.6 94.4v0.8M191.8 94.9v0.8M191.0 94.5v0.8M190.2 94.4v0.8M189.4 94.4v0.9M188.6 93.8v0.9M187.8 93.9v0.9M187.0 94.1v0.9M186.2 94.3v0.9M185.4 93.8v1.0M184.6 93.9v1.0M183.8 93.1v1.0M183.0 92.6v1.0M182.2 92.4v1.0M181.4 92.5v1.1M180.6 92.7v1.1M179.8 92.9v1.1M179.0 92.8v1.1M178.2 92.6v1.1M177.4 92.7v1.1M176.6 92.8v1.1M175.8 92.5v1.1M175.0 92.9v1.1M174.2 93.1v1.1M173.4 93.2v1.1M172.6 92.7v1.1M171.8 92.6v1.1M171.0 92.6v1.1M170.2 91.8v1.1M169.4 91.8v1.1M168.6 92.5v1.1M167.8 92.1v1.1M167.0 92.1v1.1M166.2 92.3v1.1M165.4 92.1v1.1M164.6 91.8v1.1M163.8 92.4v1.1M163.0 92.5v1.1M162.2 92.7v1.1M161.4 92.9v1.1M160.6 92.6v1.1M159.8 91.9v1.1M159.0 91.7v1.1M158.2 91.5v1.1M157.4 91.8v1.1M156.6 92.1v1.1M155.8 92.8v1.1M155.0 92.9v1.1M154.2 92.9v1.1M153.4 93.1v1.1M152.6 93.7v1.1M151.8 93.8v1.2M151.0 95.1v1.2M150.2 95.6v1.2M149.4 95.9v1.2M148.6 95.5v1.2M147.8 95.0v1.2M147.0 93.8v1.2M146.2 93.3v1.2M145.4 92.8v1.2M144.6 92.5v1.2M143.8 92.3v1.2M143.0 92.3v1.2M142.2 91.8v1.2M141.4 91.1v1.2M140.6 91.1v1.2M139.8 91.5v1.2M139.0 91.1v1.2M138.2 91.6v1.2M137.4 91.6v1.2M136.6 90.8v1.2M135.8 89.9v1.2M135.0 90.1v1.2M134.2 89.4v1.2M133.4 89.2v1.2M132.6 89.5v1.2M131.8 89.4v1.2M131.0 89.1v1.2M130.2 89.1v1.2M129.4 88.9v1.2M128.6 88.9v1.2M127.8 90.2v1.2M127.0 91.7v1.2M126.2 92.9v1.2M125.4 94.8v1.2M124.6 96.5v1.2M123.8 97.3v1.2M123.0 97.0v1.2M122.2 97.0v1.2M121.4 97.4v1.2M120.6 97.1v1.2M119.8 97.1v1.2M119.0 97.0v1.2M118.2 95.4v1.2M117.4 93.4v1.2M116.6 92.1v1.2M115.8 90.5v1.2M115.0 91.4v1.2M114.2 93.0v1.2M113.4 94.1v1.2M112.6 94.7v1.2M111.8 95.8v1.2M111.0 96.6v1.2" fill="none" stroke-linecap="round" stroke="#ff7422" stroke-width="5.70"/>
<g fill="url(#h_orange)">
<circle cx="126.8" cy="91.9" r="3.6"/>
<circle cx="128.0" cy="89.3" r="3.6"/>
<circle cx="115.3" cy="91.3" r="3.6"/>
<circle cx="113.7" cy="93.3" r="3.6"/>
<circle cx="110.2" cy="98.5" r="3.6"/>
</g>
</g>
<!-- series labels -->
<text x="289.3" y="58.4" class="b" font-size="11.3" fill="#848484">superacid</text>
<text x="289.5" y="111.9" class="b" font-size="13.8" fill="#14dc14">TiCl<tspan font-size="9.4" dy="3.5">4</tspan></text>
<text x="289.5" y="151" class="b" font-size="13.6" fill="#ff7422">TTIP</text>
<text x="289.8" y="204.7" class="b" font-size="13.7" fill="#5808e8">TDMAT</text>
<!-- TiCl4 structure -->
<g fill="#111" stroke="#111" stroke-width="0.3">
<text x="268.4" y="74.3" font-size="9.2" text-anchor="start">Cl</text>
<text x="267.9" y="87.8" font-size="9.2" text-anchor="start">Ti</text>
<text x="250.9" y="95.3" font-size="9.2" text-anchor="start">Cl</text>
<text x="281.4" y="95.3" font-size="9.2" text-anchor="start">Cl</text>
<text x="272.3" y="105.3" font-size="9.2" text-anchor="start">Cl</text>
</g>
<g stroke="#111" stroke-width="1" fill="none">
<line x1="273.2" y1="75.9" x2="273.2" y2="79.4"/>
<line x1="261.6" y1="89.9" x2="267.4" y2="86.9"/>
<line x1="277.2" y1="87.9" x2="279.2" y2="89.1" stroke-dasharray="0.5,1.0" stroke-width="1.2" stroke-opacity="0.45"/>
<line x1="279.9" y1="87.9" x2="281.0" y2="89.7" stroke-width="0.9"/>
</g>
<polygon points="273.2,89.8 273.2,96.8 275.6,96.6" fill="#000"/>
<!-- TTIP structure -->
<g fill="#151515" stroke="#151515" stroke-width="0.2" font-size="8.2">
<text x="251.4" y="123.5">O<tspan font-size="4.4" dy="-3.6" dx="0.3" font-style="italic">i</tspan><tspan dy="3.6" dx="-0.2">Pr</tspan></text>
<text x="251.9" y="140.6">Ti</text>
<text x="229.9" y="147.5"><tspan font-size="4.4" dy="-3.6" font-style="italic">i</tspan><tspan dy="3.6" dx="-0.2">PrO</tspan></text>
<text x="266.4" y="143.7">O<tspan font-size="4.4" dy="-3.6" dx="0.3" font-style="italic">i</tspan><tspan dy="3.6" dx="-0.2">Pr</tspan></text>
<text x="254.1" y="157.6">O<tspan font-size="4.4" dy="-3.6" dx="0.3" font-style="italic">i</tspan><tspan dy="3.6" dx="-0.2">Pr</tspan></text>
</g>
<g stroke="#151515" stroke-width="0.8" fill="none">
<line x1="254.6" y1="124.9" x2="254.6" y2="134.2"/>
<line x1="243.6" y1="142.8" x2="251.4" y2="139.5"/>
<line x1="257.9" y1="138.5" x2="265.7" y2="140.4" stroke-dasharray="0.6,0.9" stroke-width="1.6"/>
</g>
<polygon points="254.7,142.4 255.4,150.8 257.2,150.5" fill="#000"/>
<!-- TDMAT structure -->
<g fill="#151515" stroke="#151515" stroke-width="0.2" font-size="8.8">
<text x="235.9" y="171">NMe<tspan font-size="6" dy="1.9">2</tspan></text>
<text x="236.2" y="187.9">Ti</text>
<text x="206" y="194.6">Me<tspan font-size="6" dy="1.9">2</tspan><tspan dy="-1.9">N</tspan></text>
<text x="252" y="190.7">NMe<tspan font-size="6" dy="1.9">2</tspan></text>
<text x="240.4" y="205.2">NMe<tspan font-size="6" dy="1.9">2</tspan></text>
</g>
<g stroke="#151515" stroke-width="0.8" fill="none">
<line x1="239.1" y1="173.1" x2="239.1" y2="181.2"/>
<line x1="229.8" y1="189.7" x2="235.7" y2="187.2"/>
<line x1="242.6" y1="185.8" x2="251.2" y2="187.2" stroke-dasharray="0.6,0.9" stroke-width="1.6"/>
</g>
<polygon points="240.6,189.6 241.5,197.8 243.4,197.4" fill="#000"/>
</svg>
</body></html>
